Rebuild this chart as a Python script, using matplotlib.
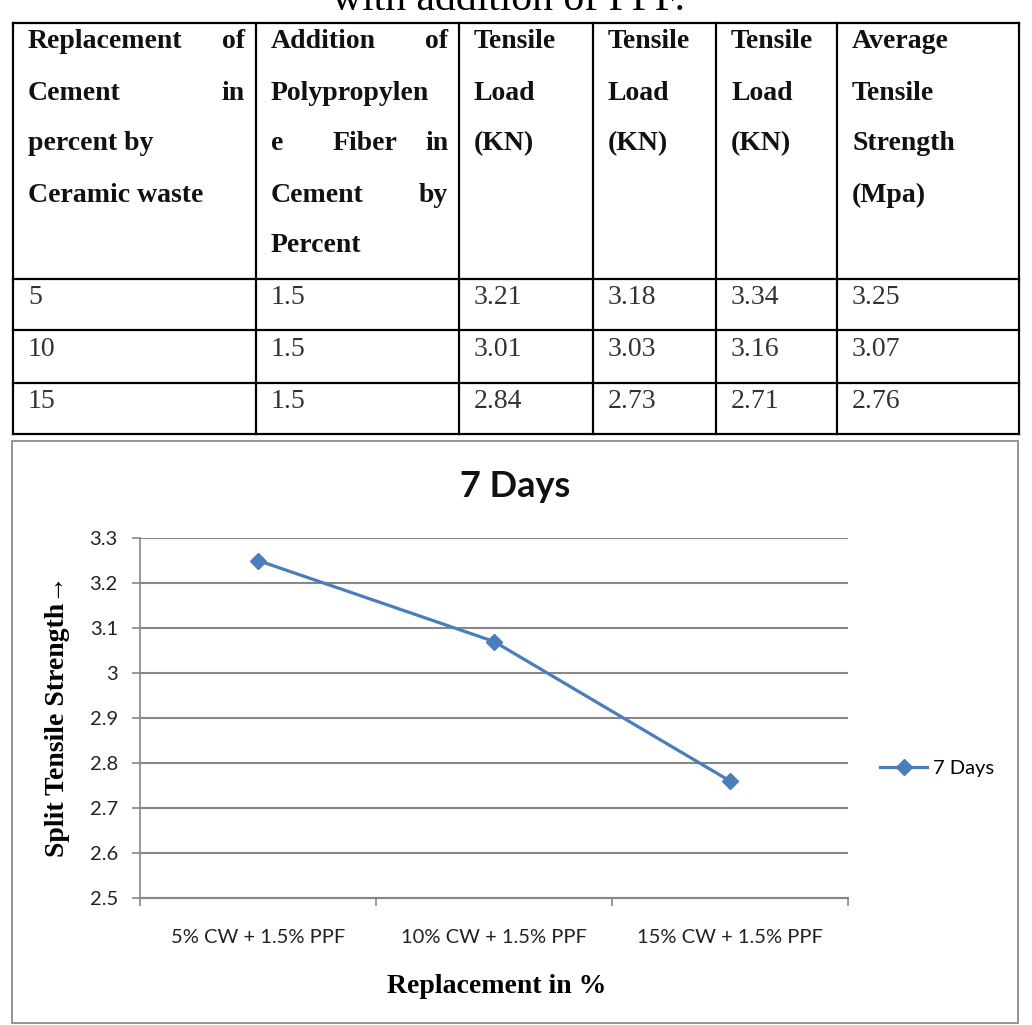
import matplotlib
matplotlib.use("Agg")
import matplotlib.pyplot as plt
from matplotlib.patches import Rectangle

# table data
cement_pct = [5, 10, 15]
ppf_pct = [1.5, 1.5, 1.5]
load_1 = [3.21, 3.01, 2.84]
load_2 = [3.18, 3.03, 2.73]
load_3 = [3.34, 3.16, 2.71]
avg_strength = [3.25, 3.07, 2.76]

# chart data
categories = ["5% CW + 1.5% PPF", "10% CW + 1.5% PPF", "15% CW + 1.5% PPF"]
series_name = "7 Days"
y_ticks = [2.5, 2.6, 2.7, 2.8, 2.9, 3.0, 3.1, 3.2, 3.3]

# header lines per column, True = justified line
header = [
    [("Replacement of", True), ("Cement in", True), ("percent by", False), ("Ceramic waste", False)],
    [("Addition of", True), ("Polypropylen", False), ("e Fiber in", True), ("Cement by", True), ("Percent", False)],
    [("Tensile", False), ("Load", False), ("(KN)", False)],
    [("Tensile", False), ("Load", False), ("(KN)", False)],
    [("Tensile", False), ("Load", False), ("(KN)", False)],
    [("Average", False), ("Tensile", False), ("Strength", False), ("(Mpa)", False)],
]

W, H = 1032, 1025
fig = plt.figure(figsize=(W / 100, H / 100), dpi=100)
fig.patch.set_facecolor("white")

# background axes in pixel coordinates for the document part
bg = fig.add_axes([0, 0, 1, 1])
bg.set_xlim(0, W)
bg.set_ylim(H, 0)
bg.axis("off")

serif = ["Liberation Serif", "DejaVu Serif"]
sans = ["Lato", "DejaVu Sans"]

# caption is cut off by the top edge, as in the screenshot
bg.text(508, 10, "with addition of PPF.", family=serif, fontsize=30,
        ha="center", va="baseline", color="black")

col_x = [13, 256, 459, 593, 716, 837, 1019]
row_y = [23, 279, 330, 383, 434]
for x in col_x:
    bg.plot([x, x], [row_y[0], row_y[-1]], color="black", lw=1.6, solid_capstyle="projecting")
for y in row_y:
    bg.plot([col_x[0], col_x[-1]], [y, y], color="black", lw=1.6, solid_capstyle="projecting")

pad_l, pad_r = 15, 11
line_y = [42, 93, 144, 195, 246]
for c, lines in enumerate(header):
    x0 = col_x[c] + pad_l
    x1 = col_x[c + 1] - pad_r
    for i, (txt, just) in enumerate(lines):
        words = txt.split()
        kw = dict(family=serif, fontsize=20, fontweight="bold", va="center", color="#111111")
        if just and len(words) > 1:
            bg.text(x0, line_y[i], words[0], ha="left", **kw)
            bg.text(x1, line_y[i], words[-1], ha="right", **kw)
            if len(words) == 3:
                bg.text((x0 + x1) / 2 + 5, line_y[i], words[1], ha="center", **kw)
        else:
            bg.text(x0, line_y[i], txt, ha="left", **kw)

rows = list(zip(cement_pct, ppf_pct, load_1, load_2, load_3, avg_strength))
for r, vals in enumerate(rows):
    for c, v in enumerate(vals):
        bg.text(col_x[c] + pad_l, row_y[r + 1] + 19, str(v), family=serif, fontsize=20,
                ha="left", va="center", color="#333333")

# chart frame
bg.add_patch(Rectangle((12, 441), 1006, 582, fill=False, edgecolor="#8c8c8c", lw=1.3))

# chart
ax = fig.add_axes([140 / W, 1 - 898 / H, 708 / W, 360 / H])
x = list(range(len(categories)))
ax.plot(x, avg_strength, color="#4A7EBB", lw=2.3, marker="D", ms=8.5,
        markerfacecolor="#4A7EBB", markeredgecolor="#4A7EBB", label=series_name, zorder=3)

ax.set_xlim(-0.5, len(categories) - 0.5)
ax.set_ylim(y_ticks[0], y_ticks[-1])
ax.set_yticks(y_ticks)
ax.set_yticklabels([f"{v:g}" for v in y_ticks])
ax.set_xticks(x)
ax.set_xticklabels(categories)
ax.set_xticks([i - 0.5 for i in range(len(categories) + 1)], minor=True)
ax.tick_params(axis="x", which="major", length=0, pad=22, labelsize=14.5, labelcolor="#222222")
ax.tick_params(axis="x", which="minor", length=6, width=1.2, color="#868686", direction="out")
ax.tick_params(axis="y", length=6, width=1.2, color="#868686", pad=10, labelsize=14.5,
               labelcolor="#222222")
for lab in ax.get_xticklabels() + ax.get_yticklabels():
    lab.set_family(sans)

ax.grid(axis="y", color="#878787", lw=1.5)
ax.set_axisbelow(True)
for s in ["top", "right"]:
    ax.spines[s].set_visible(False)
ax.spines["left"].set_color("#868686")
ax.spines["left"].set_linewidth(1.2)
ax.spines["bottom"].set_color("#868686")
ax.spines["bottom"].set_linewidth(1.5)

ax.text(0.53, 1.142, "7 Days", transform=ax.transAxes, ha="center", va="center",
        family=sans, fontsize=26, fontweight="bold", color="#111111")

ax.set_xlabel("Replacement in %", family=serif, fontsize=20, fontweight="bold")
ax.xaxis.set_label_coords(0.504, -0.247)
ax.xaxis.label.set_va("center")
ax.set_ylabel("Split Tensile Strength\u2192", family=serif, fontsize=20, fontweight="bold")
ax.yaxis.set_label_coords(-0.116, 0.506)
ax.yaxis.label.set_va("center")

ax.legend(loc="center left", bbox_to_anchor=(880 / W, 1 - 768 / H), bbox_transform=fig.transFigure,
          frameon=False, borderpad=0, borderaxespad=0, handlelength=2.35, handletextpad=0.3,
          prop={"family": sans, "size": 14.5})

fig.savefig("out.png", dpi=100, facecolor="white")
